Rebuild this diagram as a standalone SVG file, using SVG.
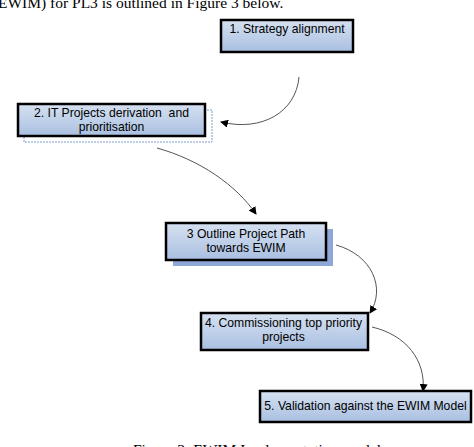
<svg xmlns="http://www.w3.org/2000/svg" width="474" height="447" viewBox="0 0 474 447">
<defs>
<linearGradient id="fill" x1="0" y1="0" x2="0" y2="1">
<stop offset="0" stop-color="#d6e1f1"/>
<stop offset="1" stop-color="#a9bfe1"/>
</linearGradient>
<marker id="arr" markerWidth="8" markerHeight="8" refX="7" refY="4" orient="auto" markerUnits="userSpaceOnUse">
<path d="M0,0 L8,4 L0,8 Z" fill="#000"/>
</marker>
<style>
.box{fill:url(#fill);stroke:#000;stroke-width:2.5}
.lbl{font-family:"Liberation Sans",Arial,sans-serif;font-size:12.2px;fill:#000;text-anchor:middle}
.body{font-family:"Liberation Serif","Times New Roman",serif;font-size:15.5px;fill:#000}
.conn{fill:none;stroke:#555;stroke-width:1;marker-end:url(#arr)}
.shadowdash{fill:none;stroke:#7f9cd0;stroke-width:1;stroke-dasharray:2,1}
.shadowfill{fill:#8ea7d6}
</style>
</defs>
<rect width="474" height="447" fill="#fff"/>
<text class="body" x="-2" y="8">EWIM) for PL3 is outlined in Figure 3 below.</text>
<g id="node1">
<rect class="box" x="221" y="20" width="132" height="32"/>
<text class="lbl" x="287" y="33">1. Strategy alignment</text>
</g>
<g id="node2">
<rect class="shadowdash" x="24" y="110" width="188" height="32"/>
<rect class="box" x="18" y="104" width="187" height="32"/>
<text class="lbl" x="111.5" y="117" xml:space="preserve">2. IT Projects derivation  and</text>
<text class="lbl" x="111.5" y="131">prioritisation</text>
</g>
<g id="node3">
<rect class="shadowfill" x="173" y="229" width="160" height="37"/>
<rect class="box" x="166" y="223" width="160" height="37"/>
<text class="lbl" x="246" y="238">3 Outline Project Path</text>
<text class="lbl" x="246" y="252">towards EWIM</text>
</g>
<g id="node4">
<rect class="box" x="201" y="313" width="167" height="37"/>
<text class="lbl" x="283.5" y="327">4. Commissioning top priority</text>
<text class="lbl" x="283.5" y="341">projects</text>
</g>
<g id="node5">
<rect class="box" x="260" y="391" width="211" height="31"/>
<text class="lbl" x="365.5" y="410">5. Validation against the EWIM Model</text>
</g>
<g id="connectors">
<path class="conn" d="M299,77 C296,112 262,132 221,122"/>
<path class="conn" d="M157,148 C200,160 236,185 256,214"/>
<path class="conn" d="M336,245 C372,255 386,288 370,313"/>
<path class="conn" d="M372,327 C406,335 426,360 423,391"/>
</g>
<text class="body" x="133" y="455">Figure 3: EWIM Implementation model</text>
</svg>
